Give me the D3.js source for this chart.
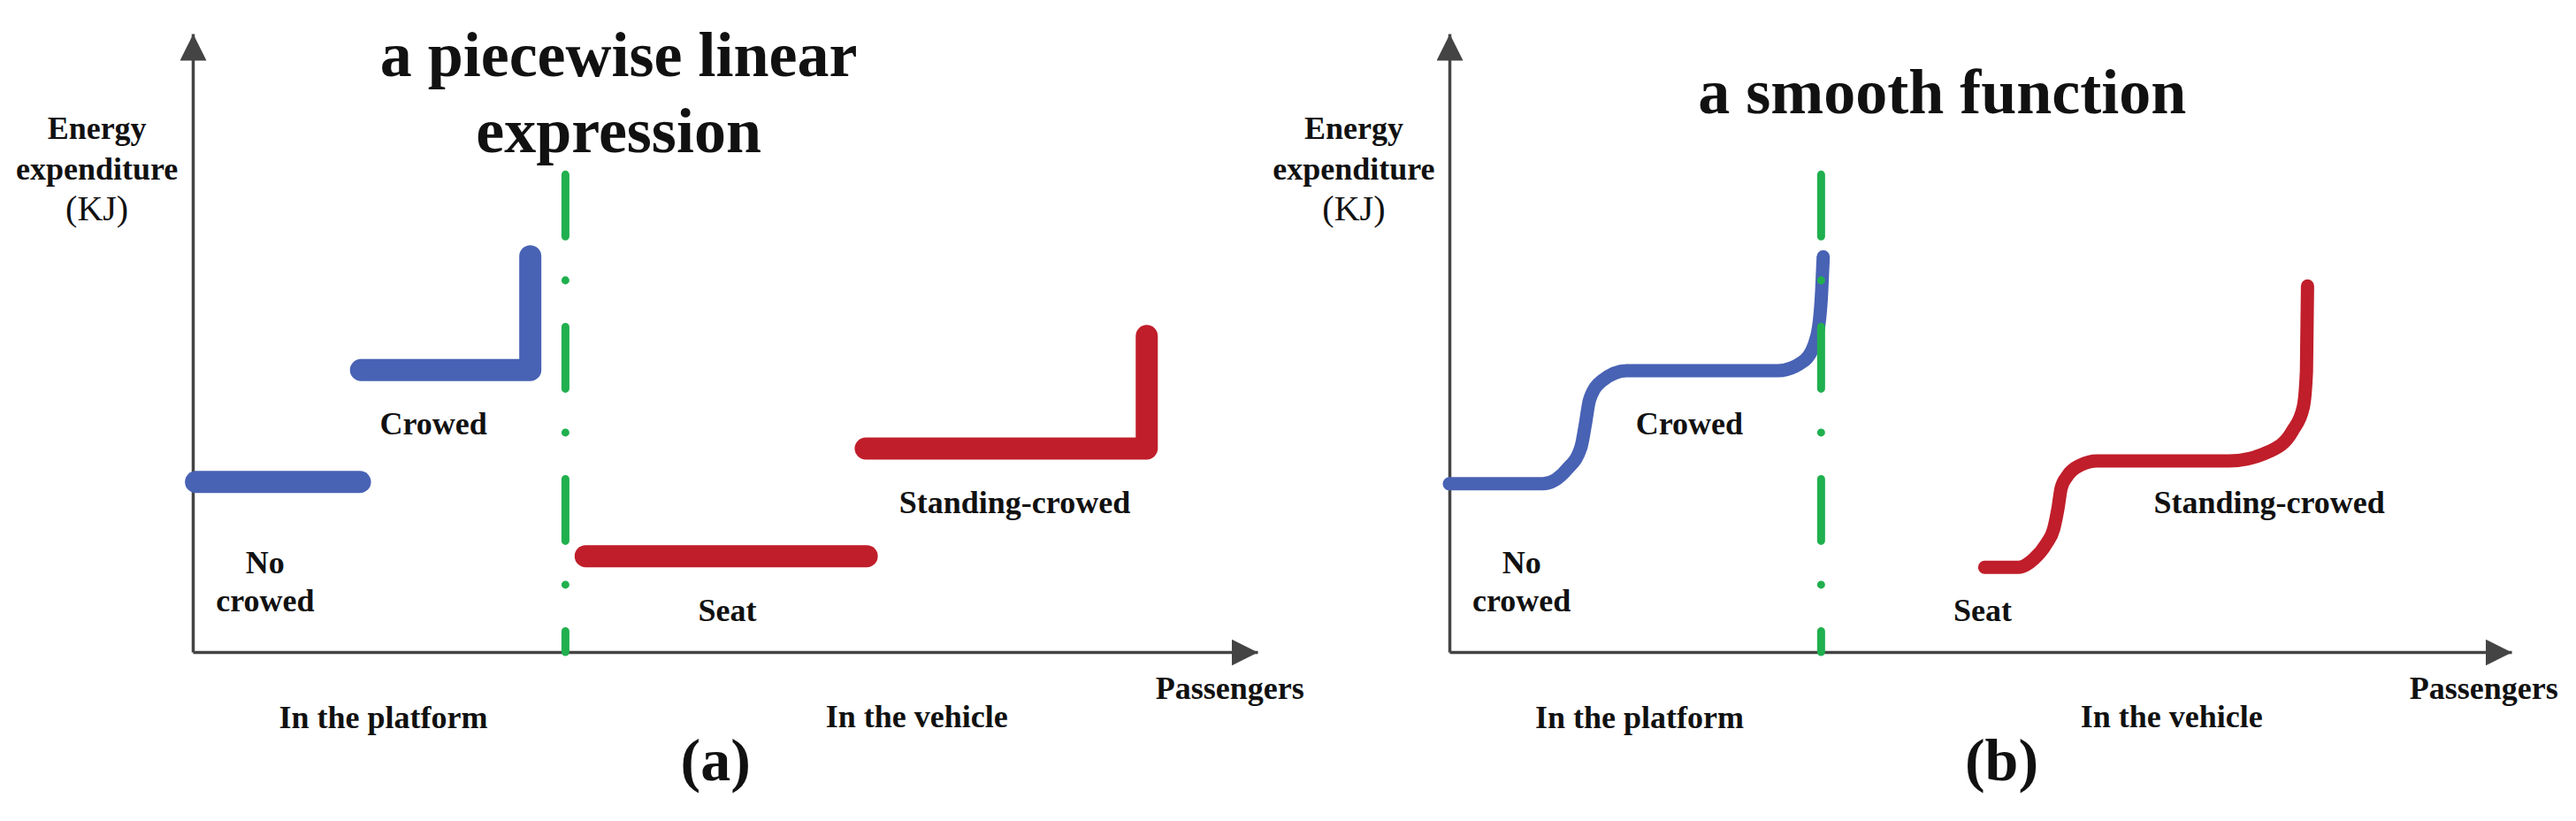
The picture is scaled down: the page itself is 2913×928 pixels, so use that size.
<!DOCTYPE html>
<html>
<head>
<meta charset="utf-8">
<script src="https://cdn.jsdelivr.net/npm/d3@7"></script>
<style>
  body { margin: 0; background: #fff; }
  text { font-family: 'Liberation Serif', 'Times New Roman', serif; font-weight: bold; fill: #111; }
</style>
</head>
<body>
<svg id="chart" width="2913" height="928"></svg>
<script>
// axis units: passengers (x) and energy expenditure (y), both 0..100
const dividerX = 35;
const dividerTop = 77.2;

// (a) piecewise linear
const noCrowedA = [[0.3, 27.5], [15.7, 27.5]];
const crowedA = [[15.8, 45.6], [31.7, 45.6], [31.7, 64.0]];
const seatA = [[36.9, 15.5], [63.3, 15.5]];
const standingA = [[63.2, 32.9], [89.6, 32.9], [89.6, 51.1]];

// (b) smooth function
const platformB = [[0, 27.2], [8.8, 27.2], [11.1, 29.6], [12.4, 33.2], [12.8, 36.8], [13.2, 40.8],
  [14.4, 43.9], [16.7, 45.5], [30.9, 45.5], [33.4, 47.1], [34.6, 51.1], [35.05, 58.2], [35.2, 63.9]];
const vehicleB = [[50.4, 13.7], [53.6, 13.7], [55.0, 15.0], [56.2, 17.5], [56.9, 19.9], [57.3, 23.2],
  [57.6, 26.5], [58.2, 28.5], [59.4, 30.2], [61.0, 30.9], [73.4, 30.9], [77.3, 32.5], [79.4, 35.8],
  [80.4, 39.6], [80.7, 45.4], [80.8, 59.2]];

// text labels, placed in axis units
const stateLabels = [
  {text: 'Crowed', x: 22.6, y: 35.2},
  {text: 'No', x: 6.8, y: 12.7},
  {text: 'crowed', x: 6.8, y: 6.6},
  {text: 'Seat', x: 50.2, y: 5.0},
  {text: 'Standing-crowed', x: 77.2, y: 22.5},
  {text: 'In the platform', x: 17.9, y: -12.3},
  {text: 'In the vehicle', x: 68, y: -12.2},
  {text: 'Passengers', x: 97.4, y: -7.6}
];
const yLabelLines = ['Energy', 'expenditure', '(KJ)'];

const blue = '#4862b4';
const red = '#c01e2a';
const green = '#20b04e';
const axisColor = '#444';

const svg = d3.select('#chart');

svg.append('defs').append('marker')
  .attr('id', 'arrow')
  .attr('markerUnits', 'userSpaceOnUse')
  .attr('viewBox', '0 -15 30 30')
  .attr('refX', 30).attr('refY', 0)
  .attr('markerWidth', 30).attr('markerHeight', 30)
  .attr('orient', 'auto')
  .append('path')
  .attr('d', 'M0,-15L30,0L0,15Z')
  .attr('fill', axisColor);

let drawPanel = (x0, x1, opts) => {
  let x = d3.scaleLinear().domain([0, 100]).range([x0, x1]);
  let y = d3.scaleLinear().domain([0, 100]).range([737, 38]);
  let g = svg.append('g');

  let xAxis = g.append('g').attr('transform', `translate(0, ${y(0)})`)
    .call(d3.axisBottom(x).tickValues([]).tickSizeOuter(0));
  let yAxis = g.append('g').attr('transform', `translate(${x(0)}, 0)`)
    .call(d3.axisLeft(y).tickValues([]).tickSizeOuter(0));
  [xAxis, yAxis].forEach(a => a.select('.domain')
    .attr('stroke', axisColor).attr('stroke-width', 3.5)
    .attr('marker-end', 'url(#arrow)'));

  let line = d3.line().x(d => x(d[0])).y(d => y(d[1])).curve(opts.curve);
  opts.series.forEach(s => {
    g.append('path')
      .attr('d', line(s.data))
      .attr('fill', 'none')
      .attr('stroke', s.color)
      .attr('stroke-width', opts.width)
      .attr('stroke-linecap', 'round')
      .attr('stroke-linejoin', 'round');
  });

  g.append('line')
    .attr('x1', x(dividerX)).attr('x2', x(dividerX))
    .attr('y1', y(dividerTop)).attr('y2', y(0))
    .attr('stroke', green).attr('stroke-width', 9)
    .attr('stroke-linecap', 'round')
    .attr('stroke-dasharray', '70 49.5 0.01 52.5');

  g.selectAll('text.state')
    .data(stateLabels)
    .enter().append('text')
    .attr('class', 'state')
    .attr('x', d => x(d.x)).attr('y', d => y(d.y))
    .attr('text-anchor', 'middle')
    .attr('font-size', 36)
    .text(d => d.text);

  g.selectAll('text.ylab')
    .data(yLabelLines)
    .enter().append('text')
    .attr('class', 'ylab')
    .attr('x', x(-9))
    .attr('y', (d, i) => y(83.0 - i * 6.6))
    .attr('text-anchor', 'middle')
    .attr('font-size', (d, i) => i === 2 ? 40 : 36)
    .style('font-weight', (d, i) => i === 2 ? 'normal' : 'bold')
    .text(d => d);

  g.selectAll('text.title')
    .data(opts.title)
    .enter().append('text')
    .attr('class', 'title')
    .attr('x', x(opts.titleX))
    .attr('y', (d, i) => y(opts.titleY - i * 12.3))
    .attr('text-anchor', 'middle')
    .attr('font-size', 72)
    .text(d => d);

  g.append('text')
    .attr('x', x(opts.tagX)).attr('y', y(-20.7))
    .attr('text-anchor', 'middle')
    .attr('font-size', 68)
    .text(opts.tag);
};

drawPanel(218, 1422, {
  curve: d3.curveLinear,
  width: 25,
  series: [
    {data: noCrowedA, color: blue},
    {data: crowedA, color: blue},
    {data: seatA, color: red},
    {data: standingA, color: red}
  ],
  title: ['a piecewise linear', 'expression'],
  titleX: 40.0, titleY: 93.1,
  tag: '(a)', tagX: 49.1
});

drawPanel(1639, 2840, {
  curve: d3.curveMonotoneX,
  width: 15,
  series: [
    {data: platformB, color: blue},
    {data: vehicleB, color: red}
  ],
  title: ['a smooth function'],
  titleX: 46.4, titleY: 87.1,
  tag: '(b)', tagX: 52.0
});
</script>
</body>
</html>
